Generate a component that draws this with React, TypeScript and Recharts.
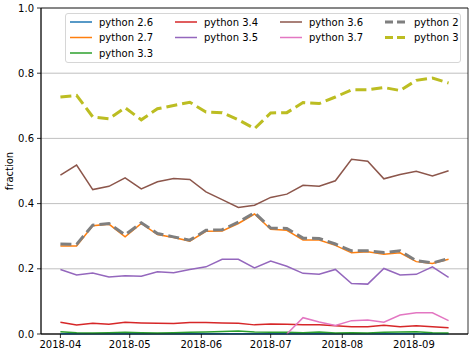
import { LineChart, Line, XAxis, YAxis, CartesianGrid, ReferenceArea } from 'recharts'

const weeks = [
  '2018-04-01', '2018-04-08', '2018-04-15', '2018-04-22', '2018-04-29',
  '2018-05-06', '2018-05-13', '2018-05-20', '2018-05-27', '2018-06-03',
  '2018-06-10', '2018-06-17', '2018-06-24', '2018-07-01', '2018-07-08',
  '2018-07-15', '2018-07-22', '2018-07-29', '2018-08-05', '2018-08-12',
  '2018-08-19', '2018-08-26', '2018-09-02', '2018-09-09', '2018-09-16',
]
const monthTicks = ['2018-04-01', '2018-05-01', '2018-06-01', '2018-07-01', '2018-08-01', '2018-09-01']
const yTicks = [0, 0.2, 0.4, 0.6, 0.8, 1.0]

const py26 = [0.001, 0.001, 0.001, 0.001, 0.001, 0.001, 0.001, 0.001, 0.001, 0.001, 0.001, 0.001, 0.001, 0.001, 0.001, 0.001, 0.001, 0.001, 0.001, 0.001, 0.001, 0.001, 0.001, 0.001, 0.001]
const py27 = [0.270, 0.270, 0.332, 0.337, 0.298, 0.339, 0.305, 0.296, 0.285, 0.315, 0.316, 0.339, 0.368, 0.321, 0.318, 0.288, 0.288, 0.272, 0.249, 0.252, 0.245, 0.249, 0.222, 0.216, 0.229]
const py33 = [0.007, 0.004, 0.003, 0.004, 0.005, 0.004, 0.003, 0.004, 0.005, 0.006, 0.008, 0.009, 0.006, 0.005, 0.005, 0.004, 0.006, 0.003, 0.004, 0.003, 0.005, 0.006, 0.007, 0.004, 0.003]
const py34 = [0.036, 0.028, 0.033, 0.030, 0.036, 0.034, 0.033, 0.032, 0.035, 0.035, 0.034, 0.033, 0.028, 0.031, 0.030, 0.028, 0.028, 0.025, 0.022, 0.022, 0.027, 0.022, 0.025, 0.022, 0.019]
const py35 = [0.198, 0.181, 0.187, 0.175, 0.179, 0.177, 0.191, 0.188, 0.198, 0.206, 0.229, 0.229, 0.203, 0.224, 0.208, 0.186, 0.183, 0.198, 0.155, 0.153, 0.201, 0.181, 0.183, 0.206, 0.174]
const py36 = [0.487, 0.518, 0.443, 0.453, 0.479, 0.445, 0.467, 0.477, 0.474, 0.436, 0.412, 0.388, 0.395, 0.419, 0.429, 0.456, 0.453, 0.470, 0.536, 0.530, 0.476, 0.489, 0.499, 0.485, 0.501]
const py37 = [null, null, null, null, null, null, null, null, null, null, null, null, null, null, 0.0, 0.050, 0.037, 0.026, 0.041, 0.043, 0.036, 0.058, 0.065, 0.065, 0.041]
const py2 = [0.276, 0.275, 0.334, 0.339, 0.304, 0.341, 0.308, 0.298, 0.288, 0.318, 0.320, 0.343, 0.372, 0.325, 0.324, 0.294, 0.293, 0.276, 0.255, 0.255, 0.250, 0.255, 0.225, 0.218, 0.231]
const py3 = [0.727, 0.732, 0.666, 0.660, 0.694, 0.657, 0.691, 0.701, 0.711, 0.681, 0.679, 0.657, 0.630, 0.678, 0.679, 0.710, 0.707, 0.727, 0.749, 0.749, 0.756, 0.747, 0.778, 0.785, 0.770]

const series = [
  { key: 'py26', name: 'python 2.6', values: py26, color: '#1f77b4', dashed: false },
  { key: 'py27', name: 'python 2.7', values: py27, color: '#ff7f0e', dashed: false },
  { key: 'py33', name: 'python 3.3', values: py33, color: '#2ca02c', dashed: false },
  { key: 'py34', name: 'python 3.4', values: py34, color: '#d62728', dashed: false },
  { key: 'py35', name: 'python 3.5', values: py35, color: '#9467bd', dashed: false },
  { key: 'py36', name: 'python 3.6', values: py36, color: '#8c564b', dashed: false },
  { key: 'py37', name: 'python 3.7', values: py37, color: '#e377c2', dashed: false },
  { key: 'py2', name: 'python 2', values: py2, color: '#7f7f7f', dashed: true },
  { key: 'py3', name: 'python 3', values: py3, color: '#bcbd22', dashed: true },
]

const DAY = 86400000
const start = Date.UTC(2018, 3, 1)
const toDay = (s: string) => {
  const [y, m, d] = s.split('-').map(Number)
  return (Date.UTC(y, m - 1, d) - start) / DAY
}

const data = weeks.map((w, i) => {
  const row: any = { day: toDay(w) }
  series.forEach((s) => (row[s.key] = s.values[i]))
  return row
})

const xTicks = monthTicks.map(toDay)
const tickLabel = (v: number) => {
  const i = xTicks.indexOf(v)
  return i >= 0 ? monthTicks[i].slice(0, 7) : ''
}

// matplotlib puts 5% margin on each side of the data range
const first = toDay(weeks[0])
const last = toDay(weeks[weeks.length - 1])
const pad = (last - first) * 0.05
const xDomain = [first - pad, last + pad]

const font = 'DejaVu Sans, sans-serif'
const legendCols = [3, 2, 2, 2]

function LegendBox() {
  const items: any[] = []
  let idx = 0
  legendCols.forEach((n, c) => {
    for (let r = 0; r < n; r++) {
      items.push({ ...series[idx], col: c, row: r })
      idx++
    }
  })
  return (
    <div
      style={{
        position: 'absolute', left: 65, top: 13, width: 394, height: 48,
        border: '1px solid #d6d6d6', borderRadius: 3, background: 'rgba(255,255,255,0.8)',
      }}
    >
      <svg width={394} height={48} style={{ display: 'block', overflow: 'visible' }}>
        {items.map((it) => {
          const x = 4 + it.col * 105
          const y = 8 + it.row * 15.5
          return (
            <g key={it.key}>
              <line
                x1={x} x2={x + 22} y1={y} y2={y}
                stroke={it.color}
                strokeWidth={it.dashed ? 3 : 1.5}
                strokeDasharray={it.dashed ? '8 4' : undefined}
              />
              <text x={x + 29} y={y} dy="0.35em" fontSize={10} fontFamily={font} fill="#000">
                {it.name}
              </text>
            </g>
          )
        })}
      </svg>
    </div>
  )
}

export default function App() {
  return (
    <div style={{ position: 'absolute', left: 0, top: 0, width: 474, height: 355, background: '#fff' }}>
      <LineChart width={474} height={355} data={data} margin={{ top: 8, right: 6, bottom: 0, left: 0 }}>
        <CartesianGrid vertical={false} stroke="#b0b0b0" strokeWidth={0.8} />
        <XAxis
          dataKey="day" type="number" domain={xDomain} ticks={xTicks} tickFormatter={tickLabel}
          height={21} stroke="#000" strokeWidth={0.8} tickSize={4} tickMargin={3}
          tick={{ fill: '#000', fontSize: 10, fontFamily: font }} allowDataOverflow
        />
        <YAxis
          type="number" domain={[0, 1]} ticks={yTicks} tickFormatter={(v: number) => v.toFixed(1)}
          width={41} stroke="#000" strokeWidth={0.8} tickSize={4} tickMargin={3}
          tick={{ fill: '#000', fontSize: 10, fontFamily: font }}
        />
        {series.map((s) => (
          <Line
            key={s.key} dataKey={s.key} name={s.name} stroke={s.color}
            strokeWidth={s.dashed ? 3 : 1.5}
            strokeDasharray={s.dashed ? '11 5' : undefined}
            dot={false} activeDot={false} isAnimationActive={false}
          />
        ))}
        <ReferenceArea x1={xDomain[0]} x2={xDomain[1]} y1={0} y2={1} fill="none" stroke="#000" strokeWidth={0.8} fillOpacity={0} />
      </LineChart>
      <div
        style={{
          position: 'absolute', left: 9, top: 171, transform: 'translate(-50%, -50%) rotate(-90deg)',
          fontFamily: font, fontSize: 10, whiteSpace: 'nowrap', color: '#000',
        }}
      >
        fraction
      </div>
      <LegendBox />
    </div>
  )
}
